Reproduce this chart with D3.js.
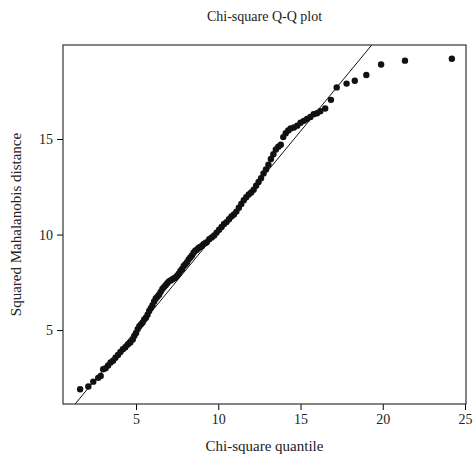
<!DOCTYPE html>
<html>
<head>
<meta charset="utf-8">
<script src="https://cdn.jsdelivr.net/npm/d3@7"></script>
<style>
  body { margin: 0; background: #fff; }
  text { font-family: "Liberation Serif", "DejaVu Serif", serif; fill: #222; }
</style>
</head>
<body>
<svg id="chart" width="474" height="474"></svg>
<script>
// chi-square quantile / squared Mahalanobis distance pairs
const quantiles = [1.6, 2.1, 2.4, 2.7, 2.85, 3.0, 3.15, 3.3, 3.45, 3.6, 3.75, 3.9, 4.05, 4.2, 4.35, 4.5, 4.65, 4.8, 4.9, 5.0,
  5.1, 5.2, 5.3, 5.4, 5.5, 5.6, 5.7, 5.8, 5.9, 6.0, 6.1, 6.2, 6.3, 6.4, 6.5, 6.6, 6.7, 6.8, 6.9, 7.0,
  7.1, 7.2, 7.3, 7.4, 7.5, 7.6, 7.7, 7.8, 7.9, 8.0, 8.1, 8.2, 8.3, 8.4, 8.5, 8.6, 8.7, 8.8, 8.9, 9.0,
  9.1, 9.2, 9.3, 9.45, 9.6, 9.75, 9.9, 10.05, 10.2, 10.35, 10.5, 10.65, 10.8, 10.95, 11.1, 11.25, 11.4, 11.55, 11.7, 11.85,
  12.0, 12.15, 12.3, 12.45, 12.6, 12.75, 12.9, 13.05, 13.2, 13.35, 13.5, 13.65, 13.8, 13.95, 14.1, 14.25, 14.4, 14.6, 14.8, 15.0,
  15.2, 15.4, 15.6, 15.8, 16.0, 16.2, 16.5, 16.85, 17.2, 17.8, 18.3, 19.0, 19.9, 21.35, 24.2];
const distances = [1.9, 2.05, 2.3, 2.5, 2.6, 2.95, 3.0, 3.15, 3.3, 3.4, 3.55, 3.7, 3.85, 4.0, 4.1, 4.25, 4.35, 4.5, 4.7, 4.85,
  5.05, 5.2, 5.3, 5.4, 5.55, 5.65, 5.8, 6.0, 6.15, 6.3, 6.5, 6.65, 6.75, 6.85, 7.0, 7.15, 7.25, 7.35, 7.45, 7.55,
  7.6, 7.65, 7.7, 7.75, 7.85, 7.95, 8.1, 8.2, 8.35, 8.45, 8.55, 8.7, 8.8, 8.9, 9.05, 9.15, 9.2, 9.3, 9.35, 9.4,
  9.5, 9.55, 9.6, 9.75, 9.85, 9.95, 10.1, 10.25, 10.4, 10.55, 10.65, 10.8, 10.95, 11.05, 11.2, 11.4, 11.6, 11.8, 11.95, 12.1,
  12.2, 12.35, 12.55, 12.75, 12.95, 13.2, 13.4, 13.65, 13.95, 14.2, 14.45, 14.6, 14.7, 15.1, 15.3, 15.45, 15.55, 15.6, 15.7, 15.85,
  15.95, 16.05, 16.15, 16.3, 16.35, 16.45, 16.6, 17.05, 17.7, 17.9, 18.05, 18.35, 18.9, 19.1, 19.2];
const xTicks = [5, 10, 15, 20, 25];
const yTicks = [5, 10, 15];
// reference line (two points on it)
const refLineX = [1.0, 22.0];
const refLineY = [0.82, 22.7];

const svg = d3.select('#chart');
const m = { left: 63, right: 466, top: 45, bottom: 404 };

const x = d3.scaleLinear().domain([0, 25]).range([53.8, 465]);
const y = d3.scaleLinear().domain([0, 15]).range([425.6, 139]);

svg.append('defs').append('clipPath').attr('id', 'plot')
  .append('rect').attr('x', m.left).attr('y', m.top)
  .attr('width', m.right - m.left).attr('height', m.bottom - m.top);

svg.append('g')
  .attr('transform', `translate(0,${m.bottom})`)
  .call(d3.axisBottom(x).tickValues(xTicks).tickSize(6).tickPadding(4))
  .call(g => g.select('.domain').remove())
  .call(g => g.selectAll('text').attr('font-size', 14).attr('font-family', '"Liberation Serif", serif'));

svg.append('g')
  .attr('transform', `translate(${m.left},0)`)
  .call(d3.axisLeft(y).tickValues(yTicks).tickSize(6).tickPadding(4))
  .call(g => g.select('.domain').remove())
  .call(g => g.selectAll('text').attr('font-size', 14).attr('font-family', '"Liberation Serif", serif'));

svg.append('line')
  .attr('clip-path', 'url(#plot)')
  .attr('x1', x(refLineX[0])).attr('y1', y(refLineY[0]))
  .attr('x2', x(refLineX[1])).attr('y2', y(refLineY[1]))
  .attr('stroke', '#111').attr('stroke-width', 1);

svg.append('g').attr('clip-path', 'url(#plot)')
  .selectAll('circle')
  .data(quantiles)
  .join('circle')
  .attr('cx', d => x(d))
  .attr('cy', (d, i) => y(distances[i]))
  .attr('r', 3.2)
  .attr('fill', '#111');

svg.append('rect')
  .attr('x', m.left).attr('y', m.top).attr('width', m.right - m.left).attr('height', m.bottom - m.top)
  .attr('fill', 'none').attr('stroke', '#333').attr('stroke-width', 1.2);

svg.append('text').attr('x', (m.left + m.right) / 2).attr('y', 21)
  .attr('text-anchor', 'middle').attr('font-size', 14).text('Chi-square Q-Q plot');

svg.append('text').attr('x', (m.left + m.right) / 2).attr('y', 451)
  .attr('text-anchor', 'middle').attr('font-size', 15).text('Chi-square quantile');

svg.append('text')
  .attr('transform', `translate(21,${(m.top + m.bottom) / 2}) rotate(-90)`)
  .attr('text-anchor', 'middle').attr('font-size', 15).text('Squared Mahalanobis distance');
</script>
</body>
</html>
